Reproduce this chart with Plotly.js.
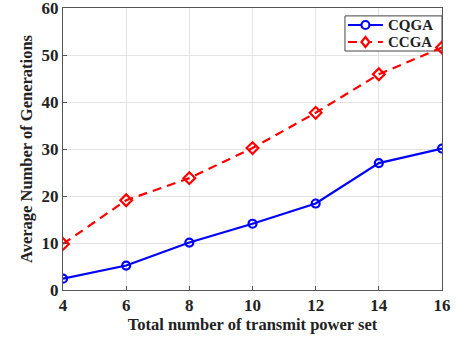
<!DOCTYPE html>
<html><head><meta charset="utf-8">
<script src="https://cdn.plot.ly/plotly-3.0.1.min.js"></script>
<style>html,body{margin:0;padding:0;background:#fff}#chart{width:474px;height:356px}</style>
</head><body><div id="chart"></div>
<script>
var xValues = [4, 6, 8, 10, 12, 14, 16];
var cqga = [2.4, 5.2, 10.1, 14.1, 18.4, 27.0, 30.1];
var ccga = [9.8, 19.1, 23.8, 30.2, 37.7, 45.9, 51.6];
var seriesNames = ['CQGA', 'CCGA'];
var xTicks = [4, 6, 8, 10, 12, 14, 16];
var yTicks = [0, 10, 20, 30, 40, 50, 60];

var fam = '"Liberation Serif", "Times New Roman", serif';
var blue = '#0000ff', red = '#ff0000';
var xRange = [4, 16], yRange = [0, 60];
var traces = [
  {x: xValues, y: cqga, name: seriesNames[0], type: 'scatter', mode: 'lines+markers', showlegend: false,
   line: {color: blue, width: 2.2},
   marker: {symbol: 'circle-open', size: 8, color: blue, line: {width: 2.2, color: blue}}},
  {x: xValues, y: ccga, name: seriesNames[1], type: 'scatter', mode: 'lines+markers', showlegend: false,
   line: {color: red, width: 2.2, dash: '9px,6px'},
   marker: {symbol: 'diamond-open', size: 9, color: red, line: {width: 2.2, color: red}}}
];

// legend box placed by fractions of the axes, drawn between gridlines and traces
var lg = {x0: 0.744, x1: 1, y0: 0.8475, y1: 0.972, rows: [0.9397, 0.8794], lineX0: 0.752, lineX1: 0.844, mx: 0.798, tx: 0.852};
function fx(d) { return xRange[0] + d * (xRange[1] - xRange[0]); }
function fy(d) { return yRange[0] + d * (yRange[1] - yRange[0]); }
var shapes = [
  {type: 'rect', xref: 'x', yref: 'y', layer: 'between', x0: fx(lg.x0), x1: fx(lg.x1), y0: fy(lg.y0), y1: fy(lg.y1),
   fillcolor: '#fff', line: {color: '#444', width: 1}},
  {type: 'line', xref: 'x', yref: 'y', layer: 'between', x0: fx(lg.lineX0), x1: fx(lg.lineX1), y0: fy(lg.rows[0]), y1: fy(lg.rows[0]),
   line: {color: blue, width: 2.2}},
  {type: 'circle', xref: 'x', yref: 'y', layer: 'between', xsizemode: 'pixel', ysizemode: 'pixel',
   xanchor: fx(lg.mx), yanchor: fy(lg.rows[0]), x0: -4, x1: 4, y0: -4, y1: 4, fillcolor: '#fff', line: {color: blue, width: 2.2}},
  {type: 'line', xref: 'x', yref: 'y', layer: 'between', x0: fx(lg.lineX0), x1: fx(lg.lineX1), y0: fy(lg.rows[1]), y1: fy(lg.rows[1]),
   line: {color: red, width: 2.2, dash: '9px,6px'}},
  {type: 'path', xref: 'x', yref: 'y', layer: 'between', xsizemode: 'pixel', ysizemode: 'pixel',
   xanchor: fx(lg.mx), yanchor: fy(lg.rows[1]), path: 'M0,-5 L4,0 L0,5 L-4,0 Z', fillcolor: '#fff', line: {color: red, width: 2.2}}
];
var annotations = seriesNames.map(function(n, i) {
  return {xref: 'x domain', yref: 'y domain', x: lg.tx, y: lg.rows[i], xanchor: 'left', yanchor: 'middle',
    showarrow: false, text: '<b>' + n + '</b>', font: {family: fam, size: 15, color: '#222'}};
});

var axisCommon = {showgrid: true, gridcolor: '#e3e3e3', gridwidth: 1, zeroline: false,
  showline: true, linecolor: '#555', linewidth: 1, mirror: true, automargin: false,
  ticklabeloverflow: 'allow',
  ticks: 'inside', ticklen: 4, tickcolor: '#555', tickfont: {family: fam, size: 17, color: '#222'}};
var layout = {
  width: 474, height: 356,
  margin: {l: 63, r: 32, t: 8, b: 66},
  paper_bgcolor: '#fff', plot_bgcolor: '#fff',
  font: {family: fam, size: 16, color: '#222'},
  showlegend: false,
  shapes: shapes,
  annotations: annotations,
  xaxis: Object.assign({}, axisCommon, {range: xRange, tickvals: xTicks, ticktext: xTicks.map(function(v){return '<b>' + v + '</b>';}),
    title: {text: '<b>Total number of transmit power set</b>', font: {family: fam, size: 16.5, color: '#222'}, standoff: 2}}),
  yaxis: Object.assign({}, axisCommon, {range: yRange, tickvals: yTicks, ticktext: yTicks.map(function(v){return '<b>' + v + '</b>';}),
    title: {text: '<b>Average Number of Generations</b>', font: {family: fam, size: 16.5, color: '#222'}, standoff: 4}})
};
Plotly.newPlot('chart', traces, layout, {displayModeBar: false, staticPlot: true});
</script></body></html>
